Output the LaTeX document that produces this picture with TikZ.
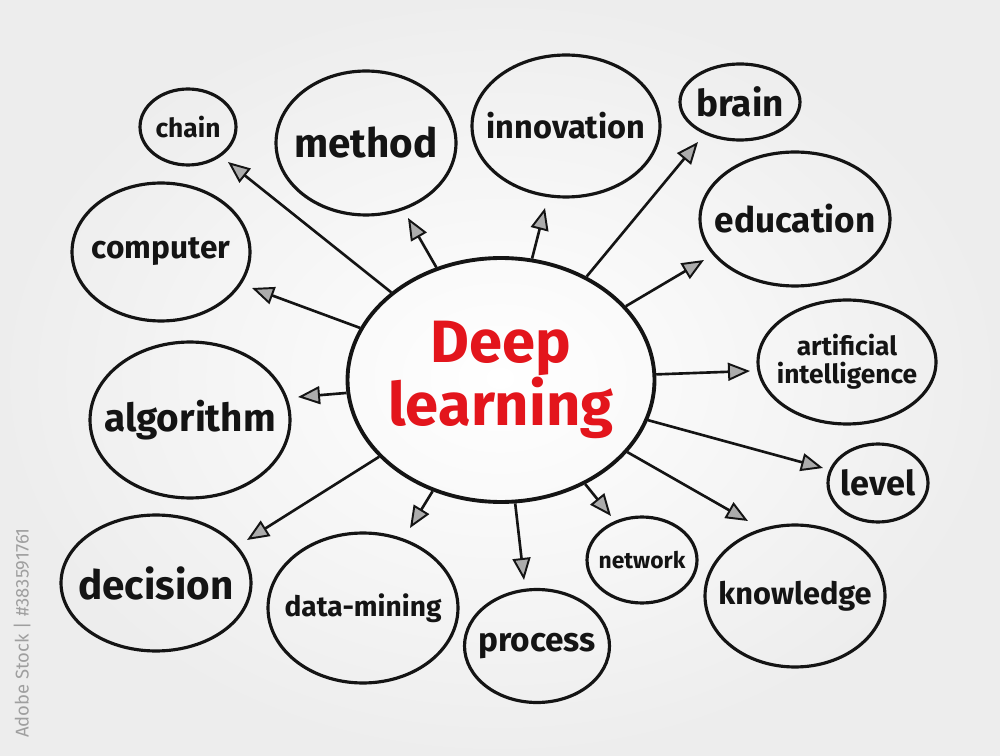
\documentclass[tikz,border=0pt]{standalone}
\usepackage{fontspec}
\setmainfont{Fira Sans}
\usetikzlibrary{shapes.geometric, arrows.meta}
\definecolor{hubred}{HTML}{E3151C}
\definecolor{ink}{HTML}{141414}
\newcommand\fsz[1]{\fontsize{#1}{1.05\dimexpr#1\relax}\selectfont}
\tikzset{
  bubble/.style={draw=ink, ellipse, line width=1.8pt, inner sep=0pt},
  word/.style={font=\bfseries\fsz{#1}, text=ink, align=center, inner sep=0pt},
  hub/.style={bubble, line width=2.2pt},
  leg/.style={draw=ink, line width=1.5pt, -{Triangle[length=4.4mm, width=3.6mm, fill=gray!65, line width=1.1pt]}},
}

\begin{document}
\begin{tikzpicture}[x=0.02cm, y=-0.02cm]
\useasboundingbox (0, 0) rectangle (1000, 756);
\shade[inner color=white, outer color=gray!14] (0, 0) rectangle (1000, 756);

% centre
\node[hub, minimum width=6.14cm, minimum height=4.88cm,
  label={[word=34pt, text=hubred]center:{Deep\\learning}}] (deep) at (501, 380) {};

% bubbles round it
\node[bubble, minimum width=1.92cm, minimum height=1.52cm, label={[word=15pt]center:chain}] (chain) at (188, 127) {};
\node[bubble, minimum width=3.6cm, minimum height=2.88cm, label={[word=23pt]center:method}] (method) at (366, 143) {};
\node[bubble, minimum width=3.76cm, minimum height=2.84cm, label={[word=18.5pt]center:innovation}] (innovation) at (566, 126) {};
\node[bubble, minimum width=2.4cm, minimum height=1.52cm, label={[word=21pt]center:brain}] (brain) at (740, 102) {};
\node[bubble, minimum width=3.8cm, minimum height=2.68cm, label={[word=20pt]center:education}] (education) at (795, 219) {};
\node[bubble, minimum width=3.56cm, minimum height=2.76cm, label={[word=18pt]center:computer}] (computer) at (161, 252) {};
\node[bubble, minimum width=3.56cm, minimum height=2.48cm, label={[word=15pt]center:{artificial\\intelligence}}] (ai) at (847, 362) {};
\node[bubble, minimum width=4cm, minimum height=3.12cm, label={[word=22pt]center:algorithm}] (algorithm) at (190, 420) {};
\node[bubble, minimum width=2cm, minimum height=1.56cm, label={[word=19.5pt]center:level}] (level) at (878, 483) {};
\node[bubble, minimum width=3.8cm, minimum height=2.72cm, label={[word=23pt]center:decision}] (decision) at (156, 583) {};
\node[bubble, minimum width=3.8cm, minimum height=3cm, label={[word=16pt]center:data-mining}] (datamining) at (363, 608) {};
\node[bubble, minimum width=2.9cm, minimum height=2.26cm, label={[word=19pt]center:process}] (process) at (537, 646) {};
\node[bubble, minimum width=2.2cm, minimum height=1.72cm, label={[word=13pt]center:network}] (network) at (642, 560) {};
\node[bubble, minimum width=3.6cm, minimum height=2.84cm, label={[word=17.5pt]center:knowledge}] (knowledge) at (795, 596) {};

% arrow tips
\coordinate (tChain) at (228, 162);
\coordinate (tMethod) at (408, 218);
\coordinate (tInnovation) at (545, 208);
\coordinate (tBrain) at (698, 142);
\coordinate (tEducation) at (704, 260);
\coordinate (tAi) at (750, 371);
\coordinate (tLevel) at (823, 468);
\coordinate (tKnowledge) at (748, 521);
\coordinate (tNetwork) at (611, 516);
\coordinate (tProcess) at (524, 580);
\coordinate (tDatamining) at (410, 528);
\coordinate (tDecision) at (247, 540);
\coordinate (tAlgorithm) at (298, 397);
\coordinate (tComputer) at (252, 288);

\foreach \t in {tChain, tMethod, tInnovation, tBrain, tEducation, tAi, tLevel,
  tKnowledge, tNetwork, tProcess, tDatamining, tDecision, tAlgorithm, tComputer}
  \draw[leg] (deep) -- (\t);

\node[rotate=90, text=gray!75, font=\fsz{10.5pt}] (stamp) at (22, 633) {Adobe Stock | \#383591761};
\end{tikzpicture}
\end{document}
